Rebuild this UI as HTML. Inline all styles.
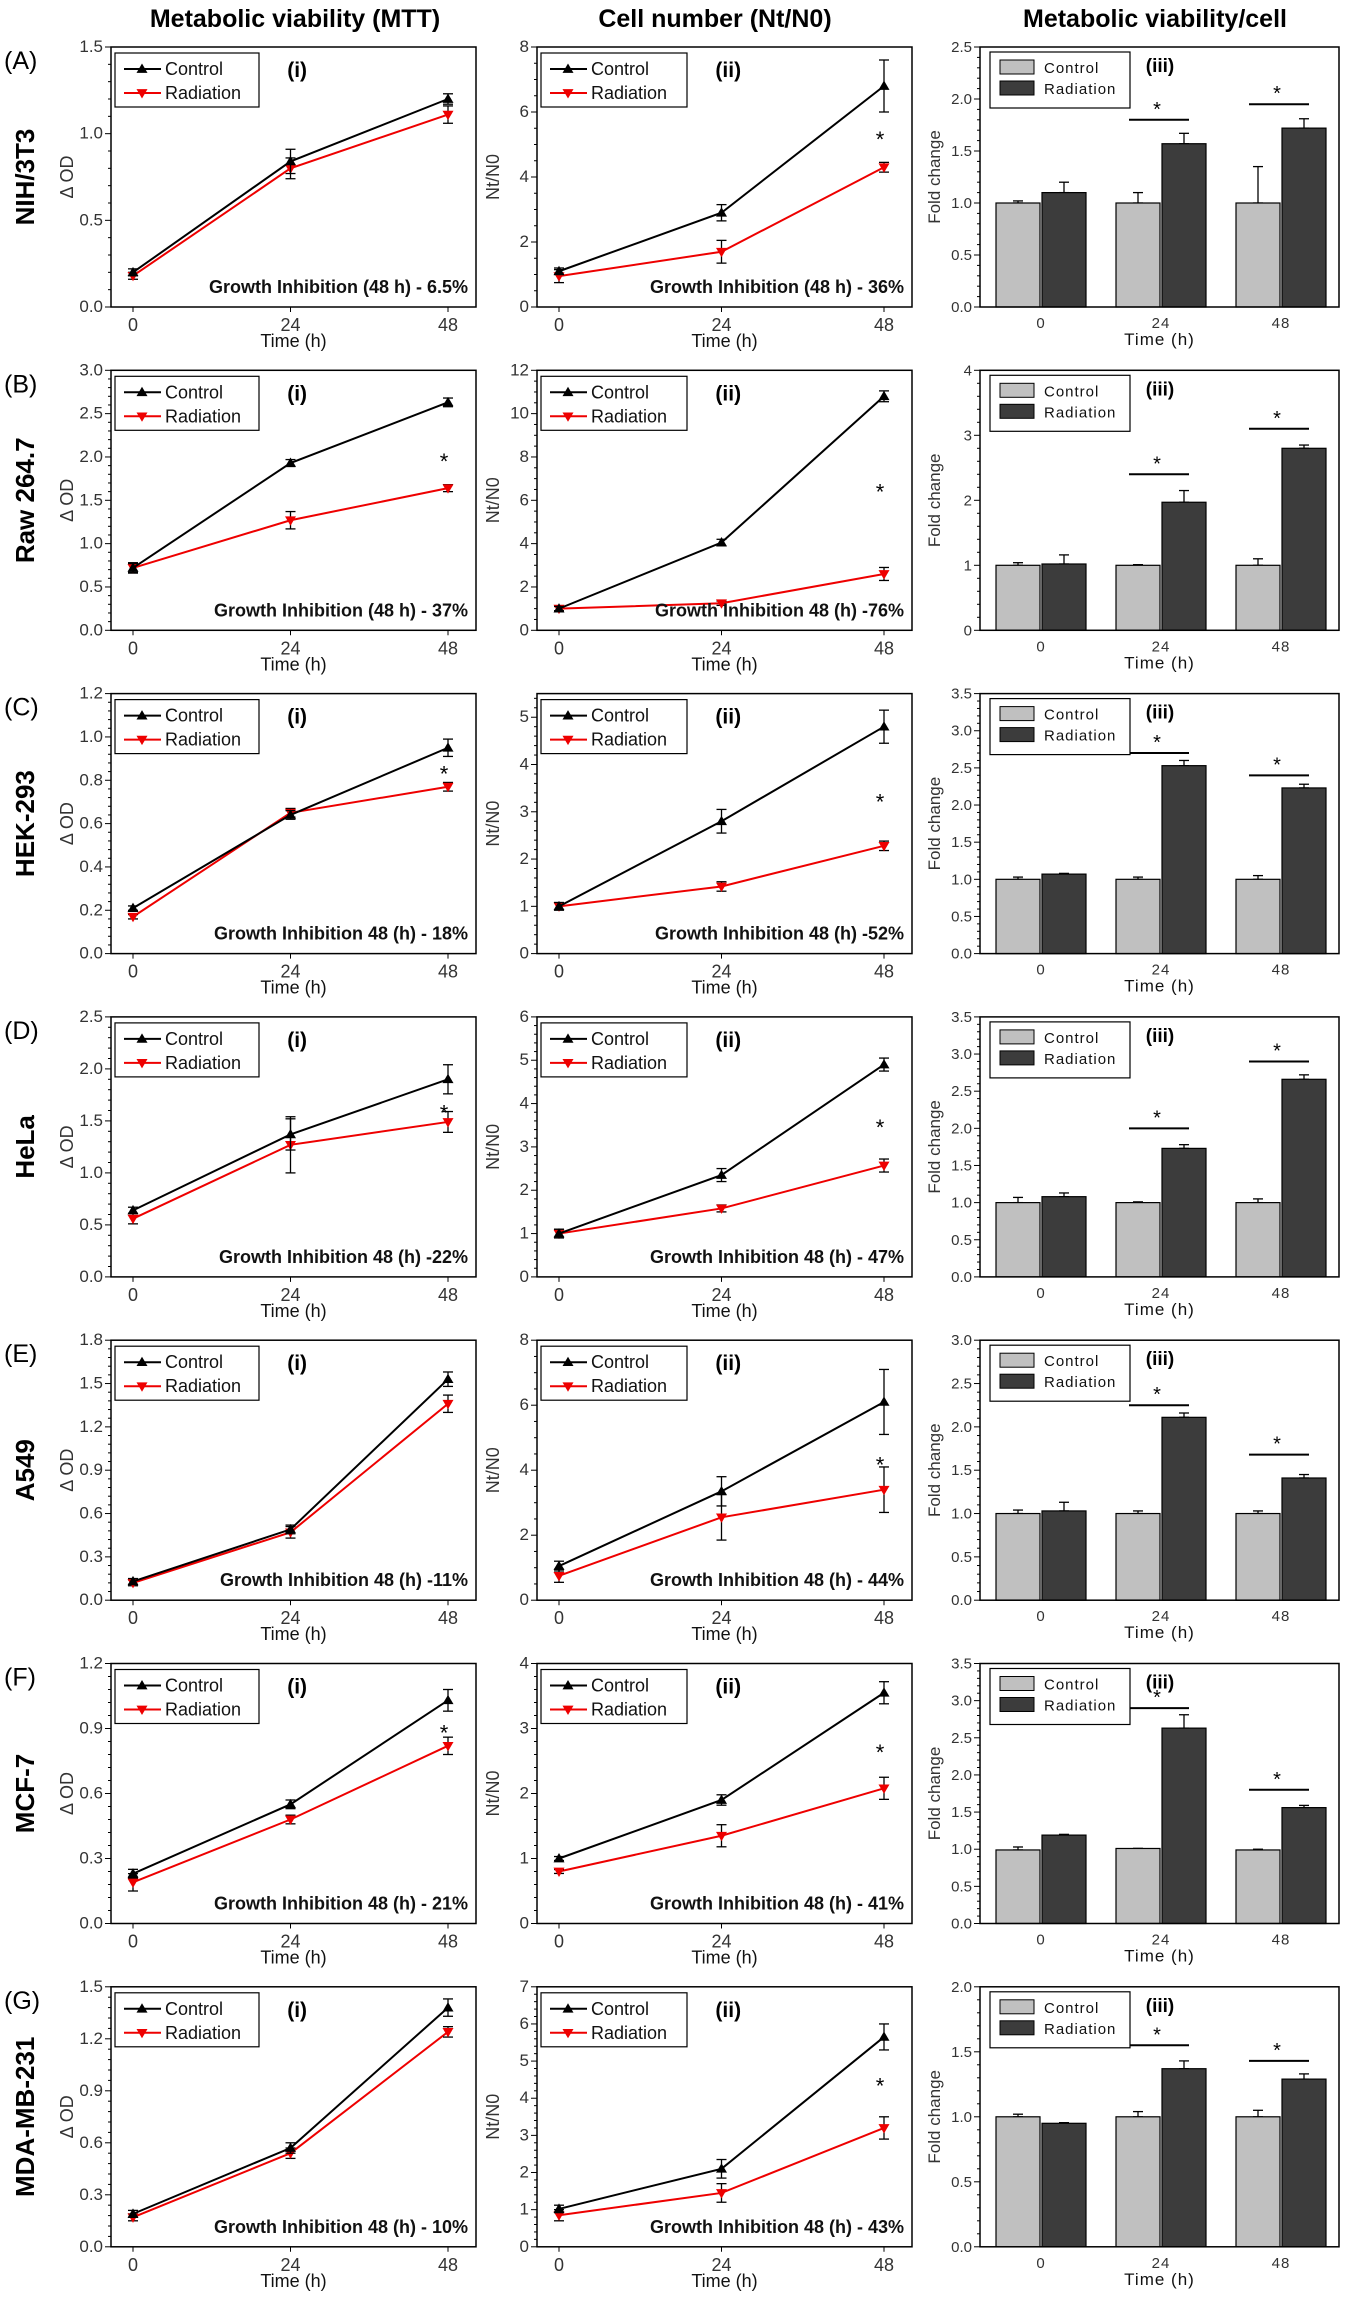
<!DOCTYPE html>
<html><head><meta charset="utf-8">
<style>
html,body{margin:0;padding:0;background:#fff;}
svg{display:block;font-family:"Liberation Sans",sans-serif;}
.n{font-family:"Liberation Sans Narrow","Liberation Sans",sans-serif;}
</style></head>
<body>
<svg id="fig" width="1352" height="2300" viewBox="0 0 1352 2300" xmlns="http://www.w3.org/2000/svg">
<text x="295" y="27" font-size="25" font-weight="bold" text-anchor="middle">Metabolic viability (MTT)</text>
<text x="715" y="27" font-size="25" font-weight="bold" text-anchor="middle">Cell number (Nt/N0)</text>
<text x="1155" y="27" font-size="25" font-weight="bold" text-anchor="middle">Metabolic viability/cell</text>
</svg>
<script>
// ---- data ----
var rowLetters = ["(A)","(B)","(C)","(D)","(E)","(F)","(G)"];
var cellLines = ["NIH/3T3","Raw 264.7","HEK-293","HeLa","A549","MCF-7","MDA-MB-231"];
var times = [0,24,48];
// MTT (i)
var mttMax = [1.5,3.0,1.2,2.5,1.8,1.2,1.5];
var mttStep = [0.5,0.5,0.2,0.5,0.3,0.3,0.3];
var mttCtrl = [[0.2,0.84,1.2],[0.72,1.93,2.63],[0.21,0.64,0.95],[0.64,1.37,1.9],[0.13,0.49,1.53],[0.23,0.55,1.03],[0.19,0.57,1.38]];
var mttCtrlErr = [[0.02,0.07,0.03],[0.05,0.04,0.05],[0.01,0.02,0.04],[0.03,0.15,0.14],[0.02,0.03,0.05],[0.02,0.02,0.05],[0.02,0.03,0.05]];
var mttRad = [[0.18,0.8,1.11],[0.72,1.27,1.64],[0.17,0.65,0.77],[0.56,1.27,1.49],[0.12,0.47,1.36],[0.19,0.48,0.82],[0.17,0.54,1.24]];
var mttRadErr = [[0.02,0.06,0.05],[0.06,0.1,0.04],[0.01,0.02,0.02],[0.05,0.27,0.1],[0.02,0.04,0.06],[0.04,0.02,0.04],[0.02,0.03,0.03]];
var mttStar = [null,2.0,0.85,1.62,null,0.9,null];
var mttGI = ["Growth Inhibition (48 h) - 6.5%","Growth Inhibition (48 h) - 37%","Growth Inhibition  48 (h) - 18%","Growth Inhibition  48 (h) -22%","Growth Inhibition  48 (h) -11%","Growth Inhibition  48 (h) - 21%","Growth Inhibition  48 (h) - 10%"];
// Cell number (ii)
var numMax = [8,12,5.5,6,8,4,7];
var numStep = [2,2,1,1,2,1,1];
var numCtrl = [[1.1,2.9,6.8],[1.0,4.05,10.8],[1.0,2.8,4.8],[1.0,2.35,4.9],[1.05,3.35,6.1],[1.0,1.9,3.55],[1.02,2.1,5.65]];
var numCtrlErr = [[0.1,0.25,0.8],[0.1,0.15,0.25],[0.08,0.25,0.35],[0.1,0.15,0.15],[0.15,0.45,1.0],[0.03,0.08,0.17],[0.1,0.25,0.35]];
var numRad = [[0.95,1.7,4.3],[1.0,1.25,2.6],[1.0,1.42,2.28],[1.0,1.58,2.57],[0.75,2.55,3.4],[0.8,1.35,2.08],[0.85,1.45,3.2]];
var numRadErr = [[0.2,0.35,0.15],[0.1,0.1,0.3],[0.08,0.1,0.1],[0.1,0.08,0.15],[0.2,0.7,0.7],[0.03,0.17,0.17],[0.15,0.25,0.3]];
var numStar = [5.3,6.6,3.3,3.55,4.3,2.7,4.45];
var numGI = ["Growth Inhibition (48 h) - 36%","Growth Inhibition  48 (h) -76%","Growth Inhibition  48 (h) -52%","Growth Inhibition  48 (h) - 47%","Growth Inhibition  48 (h) - 44%","Growth Inhibition  48 (h) - 41%","Growth Inhibition  48 (h) - 43%"];
// Fold change (iii)
var fcMax = [2.5,4,3.5,3.5,3.0,3.5,2.0];
var fcStep = [0.5,1,0.5,0.5,0.5,0.5,0.5];
var fcCtrl = [[1,1,1],[1,1,1],[1,1,1],[1,1,1],[1,1,1],[0.99,1.01,0.99],[1,1,1]];
var fcCtrlErr = [[0.02,0.1,0.35],[0.04,0.01,0.1],[0.03,0.03,0.05],[0.07,0.01,0.05],[0.04,0.03,0.03],[0.04,0,0.01],[0.02,0.04,0.05]];
var fcRad = [[1.1,1.57,1.72],[1.02,1.97,2.8],[1.07,2.53,2.23],[1.08,1.73,2.66],[1.03,2.11,1.41],[1.19,2.63,1.56],[0.95,1.37,1.29]];
var fcRadErr = [[0.1,0.1,0.09],[0.14,0.18,0.05],[0.01,0.07,0.05],[0.05,0.05,0.06],[0.1,0.05,0.04],[0.01,0.18,0.03],[0.005,0.06,0.04]];
var fcSig24 = [1.8,2.4,2.7,2.0,2.25,2.9,1.55];
var fcSig48 = [1.95,3.1,2.4,2.9,1.68,1.8,1.43];

var NS="http://www.w3.org/2000/svg";
var svg=document.getElementById('fig');
function mk(tag,attrs,parent,txt){var e=document.createElementNS(NS,tag);for(var k in attrs)e.setAttribute(k,attrs[k]);if(txt!==undefined)e.textContent=txt;(parent||svg).appendChild(e);return e;}
function fmt(v,step){return step<1? v.toFixed(1): String(Math.round(v));}

var PITCH=323.3, TOP0=47, H=260;

function yAxis(g,L,T,B,max,step,minorN,cls,fs){
  var ys=function(v){return B-(v/max)*(B-T);};
  var minor=step/minorN;
  for(var v=0;v<=max+1e-9;v+=minor){
    var major=Math.abs(v/step-Math.round(v/step))<1e-6;
    var y=ys(v);
    mk('line',{x1:L-(major?6:3),x2:L,y1:y,y2:y,stroke:'#000','stroke-width':1},g);
    if(major){var t=mk('text',{x:L-8,y:y+5,'font-size':fs,'text-anchor':'end',fill:'#333','class':cls},g,fmt(v,step));
      
      }
  }
  return ys;
}
function tri(g,x,y,up,color){
  var s=5.5;var p=up? [x,y-s,x-s,y+s*0.7,x+s,y+s*0.7]:[x,y+s,x-s,y-s*0.7,x+s,y-s*0.7];
  return mk('polygon',{points:p.join(','),fill:color},g);
}
function errBar(g,x,yv,ylo,yhi,color){
  mk('line',{x1:x,x2:x,y1:ylo,y2:yhi,stroke:color,'stroke-width':1.3},g);
  mk('line',{x1:x-5,x2:x+5,y1:ylo,y2:ylo,stroke:color,'stroke-width':1.3},g);
  mk('line',{x1:x-5,x2:x+5,y1:yhi,y2:yhi,stroke:color,'stroke-width':1.3},g);
}
function lineLegend(g,x,y,w){
  var b=mk('rect',{x:x,y:y,width:w,height:54,fill:'#fff',stroke:'#000','stroke-width':1.2},g);
  
  
  [['Control','#000',true],['Radiation','#e00',false]].forEach(function(it,i){
    var yy=y+16+i*24;
    mk('line',{x1:x+9,x2:x+46,y1:yy,y2:yy,stroke:it[1],'stroke-width':2},g);
    tri(g,x+27,yy,it[2],it[1]);
    var t=mk('text',{x:x+50,y:yy+6,'font-size':18,'class':'n',fill:'#111'},g,it[0]);
    
    
  });
}
function lineChart(r,L,R,label,ytitle,max,step,ctrl,ce,rad,re,star,gi,name){
  var T=TOP0+r*PITCH,B=T+H;
  var g=mk('g',{});
  
  
  var fr=mk('rect',{x:L,y:T,width:R-L,height:H,fill:'none',stroke:'#000','stroke-width':1.5},g);
  
  
  var ys=yAxis(g,L,T,B,max,step,step===2?4:5,'n',17);
  var xs=function(t){return L+22+(t/48)*(R-L-50);};
  times.forEach(function(t){
    var x=xs(t);
    mk('line',{x1:x,x2:x,y1:B,y2:B+5,stroke:'#000','stroke-width':1},g);
    var tl=mk('text',{x:x,y:B+24,'font-size':18,'text-anchor':'middle','class':'n',fill:'#333'},g,String(t));
    
    
  });
  var xt=mk('text',{x:(L+R)/2,y:B+40,'font-size':18,'text-anchor':'middle','class':'n',fill:'#111'},g,'Time (h)');
  
  
  var yt=mk('text',{x:0,y:0,'font-size':18,'text-anchor':'middle','class':'n',fill:'#333',transform:'translate('+(L-38)+','+((T+B)/2)+') rotate(-90)'},g,ytitle);
  
  
  [[rad,re,'#e00',false,'radiation'],[ctrl,ce,'#000',true,'control']].forEach(function(s){
    var pts=times.map(function(t,i){return xs(t)+','+ys(s[0][i]);}).join(' ');
    var pl=mk('polyline',{points:pts,fill:'none',stroke:s[2],'stroke-width':2},g);
    
    
    times.forEach(function(t,i){
      errBar(g,xs(t),ys(s[0][i]),ys(s[0][i]-s[1][i]),ys(s[0][i]+s[1][i]),'#000');
      var m=tri(g,xs(t),ys(s[0][i]),s[3],s[2]);
      
      
    });
  });
  if(star!==null){var st=mk('text',{x:xs(48)-4,y:ys(star)+12,'font-size':22,'text-anchor':'middle',fill:'#000'},g,'*');
    
    }
  lineLegend(g,L+4,T+6,R-L>370?146:144);
  var pl2=mk('text',{x:L+(R-L)*0.51,y:T+30,'font-size':21,'font-weight':'bold','text-anchor':'middle','class':'n'},g,label);
  
  
  var gt=mk('text',{x:R-8,y:B-14,'font-size':18,'font-weight':'bold','text-anchor':'end','class':'n',fill:'#111'},g,gi);
  
  
}
function barChart(r,L,R,max,step,ctrl,ce,rad,re,s24,s48){
  var T=TOP0+r*PITCH,B=T+H;
  var g=mk('g',{});
  
  
  var ys=yAxis(g,L,T,B,max,step,5,'',15);
  var cx=function(i){return L+61+i*120;};
  var bw=46;
  times.forEach(function(t,i){
    var c=cx(i);
    [[ctrl,ce,'#c0c0c0',-bw,'control'],[rad,re,'#3c3c3c',0,'radiation']].forEach(function(s){
      var v=s[0][i],e=s[1][i],x=c+s[3];
      var bx=x+1;
      errBar(g,bx+bw/2-1,0,ys(v),ys(v+e),'#000');
      var rc=mk('rect',{x:bx,y:ys(v),width:bw-2,height:B-ys(v),fill:s[2],stroke:'#000','stroke-width':1.2},g);
      
      
    });
    var tl=mk('text',{x:c,y:B+21,'font-size':15,'text-anchor':'middle',fill:'#333','letter-spacing':'1'},g,String(t));
    
    
  });
  [[1,s24],[2,s48]].forEach(function(a){
    var c=cx(a[0]),y=ys(a[1]);
    mk('line',{x1:c-32,x2:c+28,y1:y,y2:y,stroke:'#000','stroke-width':2},g);
    var st=mk('text',{x:c-4,y:y-4,'font-size':20,'text-anchor':'middle'},g,'*');
    
    
  });
  var fr=mk('rect',{x:L,y:T,width:R-L,height:H,fill:'none',stroke:'#000','stroke-width':1.5},g);
  
  
  var xt=mk('text',{x:(L+R)/2,y:B+38,'font-size':17,'text-anchor':'middle',fill:'#111','letter-spacing':'1'},g,'Time (h)');
  
  
  var yt=mk('text',{x:0,y:0,'font-size':17,'text-anchor':'middle',fill:'#333',transform:'translate('+(L-40)+','+((T+B)/2)+') rotate(-90)'},g,'Fold change');
  
  
  var lx=L+10,ly=T+5;
  var lb=mk('rect',{x:lx,y:ly,width:140,height:56,fill:'#fff',stroke:'#000','stroke-width':1.2},g);
  
  
  [['Control','#c0c0c0'],['Radiation','#3c3c3c']].forEach(function(it,i){
    var yy=ly+8+i*21;
    mk('rect',{x:lx+10,y:yy,width:34,height:14,fill:it[1],stroke:'#000','stroke-width':1},g);
    var t=mk('text',{x:lx+54,y:yy+13,'font-size':15,fill:'#111','letter-spacing':'1'},g,it[0]);
    
    
  });
  var pl=mk('text',{x:L+180,y:T+25,'font-size':19,'font-weight':'bold','text-anchor':'middle'},g,'(iii)');
  
  
}
for(var r=0;r<7;r++){
  var T=TOP0+r*PITCH;
  var rl=mk('text',{x:4,y:T+22,'font-size':25},svg,rowLetters[r]);
  
  
  var cn=mk('text',{x:0,y:0,'font-size':26,'font-weight':'bold','text-anchor':'middle',transform:'translate(34,'+(T+H/2)+') rotate(-90)'},svg,cellLines[r]);
  
  
  lineChart(r,111,476,'(i)','\u0394 OD',mttMax[r],mttStep[r],mttCtrl[r],mttCtrlErr[r],mttRad[r],mttRadErr[r],mttStar[r],mttGI[r],'mtt-chart');
  lineChart(r,537,912,'(ii)','Nt/N0',numMax[r],numStep[r],numCtrl[r],numCtrlErr[r],numRad[r],numRadErr[r],numStar[r],numGI[r],'cell-number-chart');
  barChart(r,980,1339,fcMax[r],fcStep[r],fcCtrl[r],fcCtrlErr[r],fcRad[r],fcRadErr[r],fcSig24[r],fcSig48[r]);
}
</script>
</body></html>
